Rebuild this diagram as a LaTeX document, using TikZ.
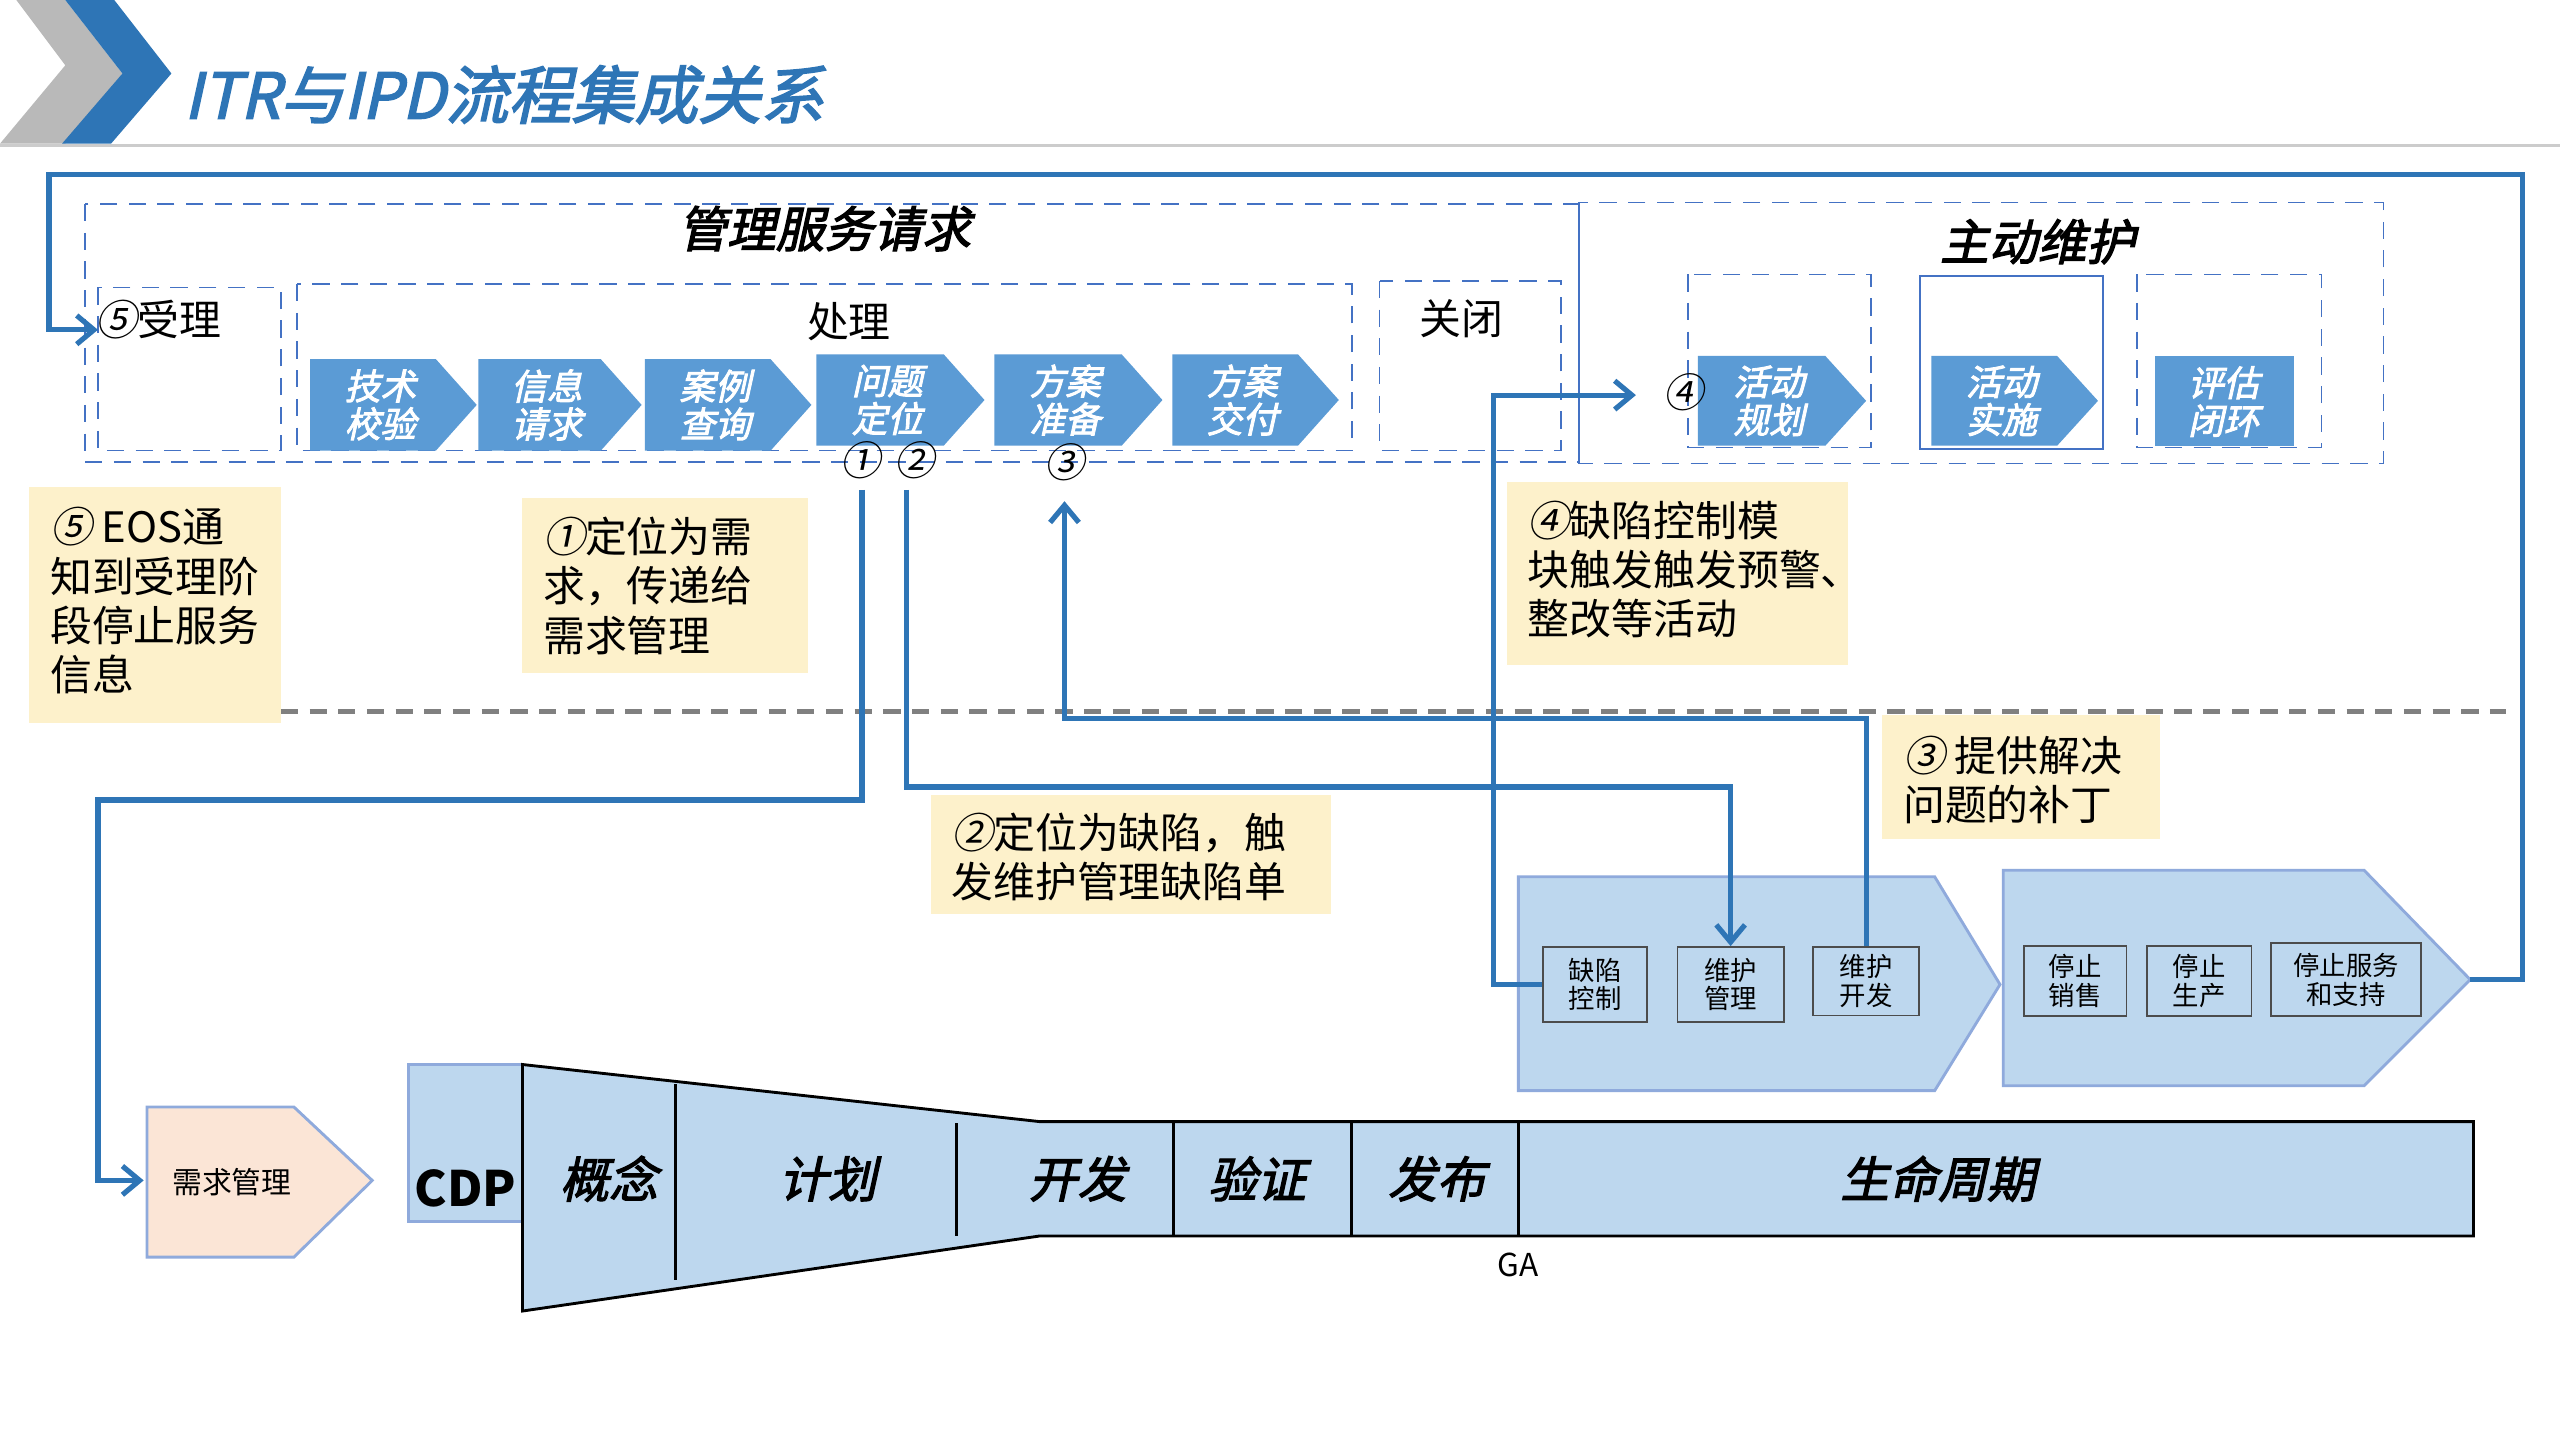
\documentclass[tikz,border=0pt]{standalone}
\usepackage{fontspec}
\setmainfont{Noto Sans CJK SC}
\newfontfamily\bif{Noto Sans CJK SC}[FakeSlant=0.22,FakeBold=2.5]
\newfontfamily\slt{Noto Sans CJK SC}[FakeSlant=0.2]
\usetikzlibrary{arrows.meta}
\definecolor{chev}{HTML}{5B9BD5}
\definecolor{lineb}{HTML}{2E75B6}
\definecolor{panel}{HTML}{BDD7EE}
\definecolor{pstroke}{HTML}{8FAADC}
\definecolor{note}{HTML}{FDF1CB}
\definecolor{peach}{HTML}{FBE5D6}
\definecolor{dash}{HTML}{4472C4}
\tikzset{
 dbox/.style={draw=dash,densely dashed,line width=0.25pt},
 ctext/.style={text=white,font=\bif\fontsize{6.2}{6.6}\selectfont,align=center},
 notebox/.style={fill=note,draw=none},
 notetext/.style={font=\fontsize{7.3}{8.6}\selectfont,align=left,anchor=north west,inner sep=0pt},
 sbox/.style={draw=black!70,fill=panel,line width=0.3pt,font=\fontsize{4.6}{5}\selectfont,align=center,inner sep=0pt},
 conn/.style={draw=lineb,line width=0.9pt},
 arr/.style={conn,-{Straight Barb[length=3pt,width=5pt]}},
 num/.style={font=\slt\fontsize{7}{7}\selectfont,inner sep=0pt},
}
\newcommand{\chevron}[6]{% name x1 x2 y1 y2 text
 \fill[chev] (#2,#4) -- (#3-25,#4) -- (#3,{(#4+#5)/2}) -- (#3-25,#5) -- (#2,#5) -- cycle;
 \node[ctext] (#1) at ({(#2+#3)/2-8},{(#4+#5)/2}) {#6};}
\begin{document}
\begin{tikzpicture}[x=0.1mm,y=-0.1mm]
\useasboundingbox (0,0) rectangle (1568,882);
\fill[white] (0,0) rectangle (1568,882);
% header
\fill[gray!55] (0,88) -- (40,40) -- (10,0) -- (40,0) -- (75,45) -- (40,88) -- cycle;
\fill[lineb] (38,88) -- (75,45) -- (40,0) -- (70,0) -- (105,45) -- (68,88) -- cycle;
\draw[gray!40,line width=0.6pt] (0,89) -- (1568,89);
\node[anchor=west,text=lineb,font=\bif\fontsize{11}{11}\selectfont,inner sep=0pt] (title) at (112,58) {ITR与IPD流程集成关系};
% top boxes
\draw[dbox] (52,125) rectangle (967,283);
\node[font=\bif\fontsize{8.5}{8.5}\selectfont] (msr) at (505,140) {管理服务请求};
\draw[dbox] (967,124) rectangle (1460,284);
\node[font=\bif\fontsize{8.5}{8.5}\selectfont] (zd) at (1248,148) {主动维护};
\draw[dbox] (60,176) rectangle (172,276);
\node[font=\fontsize{7.3}{7.3}\selectfont] (sl) at (97,196) {{\slt ⑤}受理};
\draw[dbox] (182,174) rectangle (828,276);
\node[font=\fontsize{7.3}{7.3}\selectfont] (cl) at (520,197) {处理};
\draw[dbox] (845,172) rectangle (956,276);
\node[font=\fontsize{7.3}{7.3}\selectfont] (gb) at (895,195) {关闭};
\chevron{c1}{190}{292}{220}{276}{技术\\校验}
\chevron{c2}{293}{393}{220}{276}{信息\\请求}
\chevron{c3}{395}{497}{220}{276}{案例\\查询}
\chevron{c4}{500}{603}{217}{273}{问题\\定位}
\chevron{c5}{609}{712}{217}{273}{方案\\准备}
\chevron{c6}{718}{820}{217}{273}{方案\\交付}
\draw[dbox] (1034,168) rectangle (1146,274);
\draw[draw=dash,line width=0.4pt] (1176,169) rectangle (1288,275);
\draw[dbox] (1309,168) rectangle (1422,274);
\chevron{c7}{1040}{1143}{218}{273}{活动\\规划}
\chevron{c8}{1183}{1285}{218}{273}{活动\\实施}
\fill[chev] (1320,218) rectangle (1405,273);
\node[ctext] (c9) at (1362,246) {评估\\闭环};
\node[num] (n1) at (527,282) {①};
\node[num] (n2) at (560,282) {②};
\node[num] (n3) at (652,283) {③};
\node[num] (n4) at (1031,240) {④};
% notes
\fill[notebox] (18,298) rectangle (172,443);
\node[notetext] (t5) at (30,310) {{\slt ⑤} EOS通\\知到受理阶\\段停止服务\\信息};
\fill[notebox] (320,305) rectangle (495,412);
\node[notetext] (t1) at (332,316) {{\slt ①}定位为需\\求，传递给\\需求管理};
\fill[notebox] (923,295) rectangle (1132,407);
\node[notetext] (t4) at (935,306) {{\slt ④}缺陷控制模\\块触发触发预警、\\整改等活动};
\fill[notebox] (1153,438) rectangle (1323,514);
\node[notetext] (t3) at (1165,450) {{\slt ③} 提供解决\\问题的补丁};
\fill[notebox] (570,487) rectangle (815,560);
\node[notetext] (t2) at (582,497) {{\slt ②}定位为缺陷，触\\发维护管理缺陷单};
\draw[gray,densely dashed,line width=0.9pt] (172,436) -- (1535,436);
% lower panels
\draw[pstroke,fill=panel,line width=0.5pt] (930,537) -- (1185,537) -- (1225,603) -- (1185,668) -- (930,668) -- cycle;
\draw[pstroke,fill=panel,line width=0.5pt] (1227,533) -- (1448,533) -- (1513,600) -- (1448,665) -- (1227,665) -- cycle;
\node[sbox,minimum width=6.4mm,minimum height=4.6mm] (b1) at (977,603) {缺陷\\控制};
\node[sbox,minimum width=6.5mm,minimum height=4.6mm] (b2) at (1060,603) {维护\\管理};
\node[sbox,minimum width=6.5mm,minimum height=4.2mm] (b3) at (1143,601) {维护\\开发};
\node[sbox,minimum width=6.3mm,minimum height=4.3mm] (b4) at (1271,601) {停止\\销售};
\node[sbox,minimum width=6.4mm,minimum height=4.3mm] (b5) at (1347,601) {停止\\生产};
\node[sbox,minimum width=9.2mm,minimum height=4.5mm] (b6) at (1437,600) {停止服务\\和支持};
% demand mgmt
\draw[pstroke,fill=peach,line width=0.5pt] (90,678) -- (180,678) -- (228,723) -- (180,770) -- (90,770) -- cycle;
\node[font=\fontsize{5.2}{5.2}\selectfont] (xq) at (142,724) {需求管理};
% lifecycle
\draw[pstroke,fill=panel,line width=0.5pt] (250,652) rectangle (320,748);
\node[font=\bfseries\fontsize{8.5}{8.5}\selectfont] (cdp) at (285,728) {CDP};
\draw[black,fill=panel,line width=0.5pt] (320,652) -- (637,687) -- (1515,687) -- (1515,757) -- (637,757) -- (320,803) -- cycle;
\foreach \x/\a/\b in {414/664/784,586/688/757,719/687/757,828/687/757,930/687/757}
  \draw[black,line width=0.5pt] (\x,\a) -- (\x,\b);
\foreach \n/\x/\t in {l1/373/概念,l2/507/计划,l3/660/开发,l4/770/验证,l5/880/发布,l6/1187/生命周期}
  \node[font=\bif\fontsize{8.5}{8.5}\selectfont] (\n) at (\x,722) {\t};
\node[font=\fontsize{5.5}{5.5}\selectfont] (ga) at (930,775) {GA};
% connectors
\coordinate (tip) at (1513,600);
\coordinate (sla) at (60,202);
\draw[arr] (tip) -- (1545,600) -- (1545,107) -- (30,107) -- (30,202) -- (sla);
\coordinate (s1) at (528,300);
\coordinate (xqa) at (88,723);
\draw[arr] (s1) -- (528,490) -- (60,490) -- (60,723) -- (xqa);
\coordinate (s2) at (555,300);
\draw[arr] (s2) -- (555,482) -- (1060,482) -- (b2.north);
\coordinate (s3) at (652,307);
\draw[arr] (b3.north) -- (1143,440) -- (652,440) -- (s3);
\coordinate (s4) at (1002,242);
\draw[arr] (b1.west) -- (915,603) -- (915,242) -- (s4);
\end{tikzpicture}
\end{document}
